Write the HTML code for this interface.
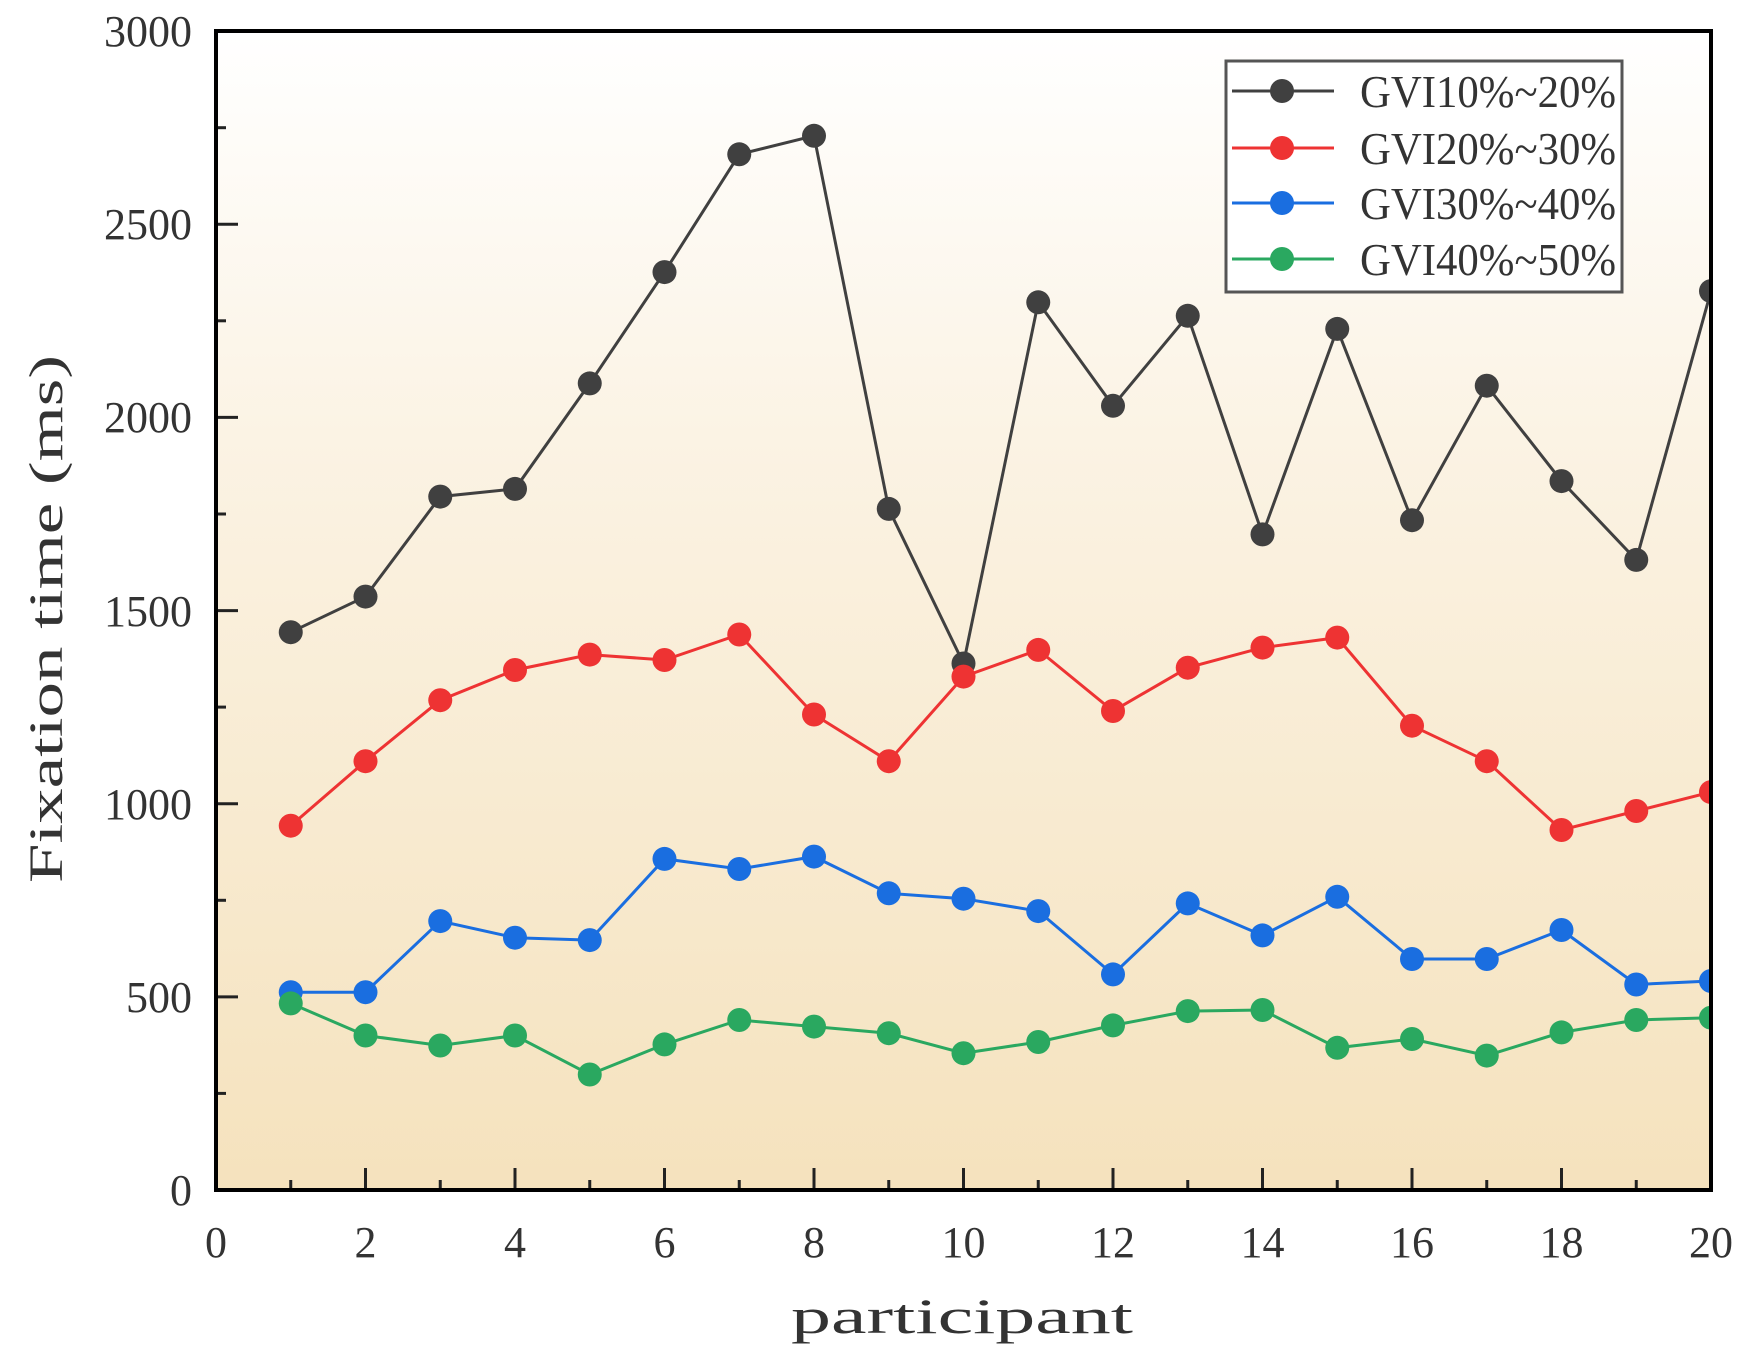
<!DOCTYPE html>
<html><head><meta charset="utf-8"><style>body{margin:0;background:#fff}svg{display:block}</style></head><body>
<svg width="1742" height="1360" xmlns="http://www.w3.org/2000/svg">
<defs>
<linearGradient id="bg" x1="0" y1="0" x2="0" y2="1"><stop offset="0" stop-color="#ffffff"/><stop offset="0.35" stop-color="#fbf3e4"/><stop offset="1" stop-color="#f5e2bd"/></linearGradient>
<clipPath id="cp"><rect x="216" y="31" width="1495" height="1159"/></clipPath>
</defs>
<rect x="216" y="31" width="1495" height="1159" fill="url(#bg)"/>
<g stroke="#222" stroke-width="3">
<line x1="290.75" y1="1190" x2="290.75" y2="1180"/><line x1="365.5" y1="1190" x2="365.5" y2="1168"/>
<line x1="440.25" y1="1190" x2="440.25" y2="1180"/><line x1="515" y1="1190" x2="515" y2="1168"/>
<line x1="589.75" y1="1190" x2="589.75" y2="1180"/><line x1="664.5" y1="1190" x2="664.5" y2="1168"/>
<line x1="739.25" y1="1190" x2="739.25" y2="1180"/><line x1="814" y1="1190" x2="814" y2="1168"/>
<line x1="888.75" y1="1190" x2="888.75" y2="1180"/><line x1="963.5" y1="1190" x2="963.5" y2="1168"/>
<line x1="1038.25" y1="1190" x2="1038.25" y2="1180"/><line x1="1113" y1="1190" x2="1113" y2="1168"/>
<line x1="1187.75" y1="1190" x2="1187.75" y2="1180"/><line x1="1262.5" y1="1190" x2="1262.5" y2="1168"/>
<line x1="1337.25" y1="1190" x2="1337.25" y2="1180"/><line x1="1412" y1="1190" x2="1412" y2="1168"/>
<line x1="1486.75" y1="1190" x2="1486.75" y2="1180"/><line x1="1561.5" y1="1190" x2="1561.5" y2="1168"/>
<line x1="1636.25" y1="1190" x2="1636.25" y2="1180"/>
<line x1="216" y1="1093.4" x2="226" y2="1093.4"/><line x1="216" y1="996.9" x2="238" y2="996.9"/>
<line x1="216" y1="900.3" x2="226" y2="900.3"/><line x1="216" y1="803.7" x2="238" y2="803.7"/>
<line x1="216" y1="707.1" x2="226" y2="707.1"/><line x1="216" y1="610.6" x2="238" y2="610.6"/>
<line x1="216" y1="514" x2="226" y2="514"/><line x1="216" y1="417.4" x2="238" y2="417.4"/>
<line x1="216" y1="320.8" x2="226" y2="320.8"/><line x1="216" y1="224.3" x2="238" y2="224.3"/>
<line x1="216" y1="127.7" x2="226" y2="127.7"/>
</g>
<g clip-path="url(#cp)">
<g stroke="#404040" stroke-width="3" fill="#404040">
<polyline fill="none" points="290.75,632.2 365.5,596.6 440.25,496.6 515,488.9 589.75,383.4 664.5,272.1 739.25,154.3 814,135.8 888.75,508.9 963.5,663.5 1038.25,302.3 1113,405.8 1187.75,315.8 1262.5,534.4 1337.25,328.9 1412,520.2 1486.75,385.7 1561.5,481.1 1636.25,559.9 1711,291.1"/>
<g stroke="none">
<circle cx="290.75" cy="632.2" r="12"/><circle cx="365.5" cy="596.6" r="12"/><circle cx="440.25" cy="496.6" r="12"/><circle cx="515" cy="488.9" r="12"/><circle cx="589.75" cy="383.4" r="12"/><circle cx="664.5" cy="272.1" r="12"/><circle cx="739.25" cy="154.3" r="12"/><circle cx="814" cy="135.8" r="12"/><circle cx="888.75" cy="508.9" r="12"/><circle cx="963.5" cy="663.5" r="12"/><circle cx="1038.25" cy="302.3" r="12"/><circle cx="1113" cy="405.8" r="12"/><circle cx="1187.75" cy="315.8" r="12"/><circle cx="1262.5" cy="534.4" r="12"/><circle cx="1337.25" cy="328.9" r="12"/><circle cx="1412" cy="520.2" r="12"/><circle cx="1486.75" cy="385.7" r="12"/><circle cx="1561.5" cy="481.1" r="12"/><circle cx="1636.25" cy="559.9" r="12"/><circle cx="1711" cy="291.1" r="12"/>
</g></g>
<g stroke="#ee3333" stroke-width="3" fill="#ee3333">
<polyline fill="none" points="290.75,825.7 365.5,761.2 440.25,700.2 515,670 589.75,654.6 664.5,660 739.25,634.5 814,714.5 888.75,761.2 963.5,676.6 1038.25,649.9 1113,711 1187.75,667.7 1262.5,647.6 1337.25,637.6 1412,725.7 1486.75,761.2 1561.5,830 1636.25,811 1711,792.1"/>
<g stroke="none">
<circle cx="290.75" cy="825.7" r="12"/><circle cx="365.5" cy="761.2" r="12"/><circle cx="440.25" cy="700.2" r="12"/><circle cx="515" cy="670" r="12"/><circle cx="589.75" cy="654.6" r="12"/><circle cx="664.5" cy="660" r="12"/><circle cx="739.25" cy="634.5" r="12"/><circle cx="814" cy="714.5" r="12"/><circle cx="888.75" cy="761.2" r="12"/><circle cx="963.5" cy="676.6" r="12"/><circle cx="1038.25" cy="649.9" r="12"/><circle cx="1113" cy="711" r="12"/><circle cx="1187.75" cy="667.7" r="12"/><circle cx="1262.5" cy="647.6" r="12"/><circle cx="1337.25" cy="637.6" r="12"/><circle cx="1412" cy="725.7" r="12"/><circle cx="1486.75" cy="761.2" r="12"/><circle cx="1561.5" cy="830" r="12"/><circle cx="1636.25" cy="811" r="12"/><circle cx="1711" cy="792.1" r="12"/>
</g></g>
<g stroke="#1a6ee0" stroke-width="3" fill="#1a6ee0">
<polyline fill="none" points="290.75,992.2 365.5,992.2 440.25,921.1 515,937.7 589.75,940.1 664.5,858.9 739.25,869 814,856.6 888.75,893.3 963.5,898.7 1038.25,911.1 1113,974.4 1187.75,903.4 1262.5,935.4 1337.25,896.8 1412,959 1486.75,959 1561.5,930 1636.25,984.5 1711,981"/>
<g stroke="none">
<circle cx="290.75" cy="992.2" r="12"/><circle cx="365.5" cy="992.2" r="12"/><circle cx="440.25" cy="921.1" r="12"/><circle cx="515" cy="937.7" r="12"/><circle cx="589.75" cy="940.1" r="12"/><circle cx="664.5" cy="858.9" r="12"/><circle cx="739.25" cy="869" r="12"/><circle cx="814" cy="856.6" r="12"/><circle cx="888.75" cy="893.3" r="12"/><circle cx="963.5" cy="898.7" r="12"/><circle cx="1038.25" cy="911.1" r="12"/><circle cx="1113" cy="974.4" r="12"/><circle cx="1187.75" cy="903.4" r="12"/><circle cx="1262.5" cy="935.4" r="12"/><circle cx="1337.25" cy="896.8" r="12"/><circle cx="1412" cy="959" r="12"/><circle cx="1486.75" cy="959" r="12"/><circle cx="1561.5" cy="930" r="12"/><circle cx="1636.25" cy="984.5" r="12"/><circle cx="1711" cy="981" r="12"/>
</g></g>
<g stroke="#2aa860" stroke-width="3" fill="#2aa860">
<polyline fill="none" points="290.75,1003.4 365.5,1035.5 440.25,1045.5 515,1035.5 589.75,1074.5 664.5,1044.4 739.25,1020 814,1026.6 888.75,1033.2 963.5,1053.2 1038.25,1042 1113,1025.4 1187.75,1011.1 1262.5,1010 1337.25,1047.8 1412,1039 1486.75,1055.6 1561.5,1032.4 1636.25,1020 1711,1017.7"/>
<g stroke="none">
<circle cx="290.75" cy="1003.4" r="12"/><circle cx="365.5" cy="1035.5" r="12"/><circle cx="440.25" cy="1045.5" r="12"/><circle cx="515" cy="1035.5" r="12"/><circle cx="589.75" cy="1074.5" r="12"/><circle cx="664.5" cy="1044.4" r="12"/><circle cx="739.25" cy="1020" r="12"/><circle cx="814" cy="1026.6" r="12"/><circle cx="888.75" cy="1033.2" r="12"/><circle cx="963.5" cy="1053.2" r="12"/><circle cx="1038.25" cy="1042" r="12"/><circle cx="1113" cy="1025.4" r="12"/><circle cx="1187.75" cy="1011.1" r="12"/><circle cx="1262.5" cy="1010" r="12"/><circle cx="1337.25" cy="1047.8" r="12"/><circle cx="1412" cy="1039" r="12"/><circle cx="1486.75" cy="1055.6" r="12"/><circle cx="1561.5" cy="1032.4" r="12"/><circle cx="1636.25" cy="1020" r="12"/><circle cx="1711" cy="1017.7" r="12"/>
</g></g>
</g>
<rect x="216" y="31" width="1495" height="1159" fill="none" stroke="#000" stroke-width="4"/>
<g font-family="Liberation Serif, serif" font-size="44" fill="#333">
<text x="192" y="1205" text-anchor="end">0</text>
<text x="192" y="1012" text-anchor="end">500</text>
<text x="192" y="819" text-anchor="end">1000</text>
<text x="192" y="626" text-anchor="end">1500</text>
<text x="192" y="432" text-anchor="end">2000</text>
<text x="192" y="239" text-anchor="end">2500</text>
<text x="192" y="46" text-anchor="end">3000</text>
<text x="216" y="1257" text-anchor="middle">0</text>
<text x="365.5" y="1257" text-anchor="middle">2</text>
<text x="515" y="1257" text-anchor="middle">4</text>
<text x="664.5" y="1257" text-anchor="middle">6</text>
<text x="814" y="1257" text-anchor="middle">8</text>
<text x="963.5" y="1257" text-anchor="middle">10</text>
<text x="1113" y="1257" text-anchor="middle">12</text>
<text x="1262.5" y="1257" text-anchor="middle">14</text>
<text x="1412" y="1257" text-anchor="middle">16</text>
<text x="1561.5" y="1257" text-anchor="middle">18</text>
<text x="1711" y="1257" text-anchor="middle">20</text>
</g>
<text transform="translate(62,619) rotate(-90)" text-anchor="middle" font-family="Liberation Serif, serif" font-size="48" fill="#333" textLength="528" lengthAdjust="spacingAndGlyphs">Fixation time (ms)</text>
<text x="962" y="1333" text-anchor="middle" font-family="Liberation Serif, serif" font-size="50" fill="#333" textLength="342" lengthAdjust="spacingAndGlyphs">participant</text>
<rect x="1226" y="61" width="396" height="231" fill="#fff" stroke="#555" stroke-width="3"/>
<g font-family="Liberation Serif, serif" font-size="46" fill="#333">
<line x1="1232" y1="91" x2="1334" y2="91" stroke="#404040" stroke-width="3"/><circle cx="1282" cy="91" r="12" fill="#404040"/>
<text x="1360" y="107" textLength="256" lengthAdjust="spacingAndGlyphs">GVI10%~20%</text>
<line x1="1232" y1="148" x2="1334" y2="148" stroke="#ee3333" stroke-width="3"/><circle cx="1282" cy="148" r="12" fill="#ee3333"/>
<text x="1360" y="164" textLength="256" lengthAdjust="spacingAndGlyphs">GVI20%~30%</text>
<line x1="1232" y1="203" x2="1334" y2="203" stroke="#1a6ee0" stroke-width="3"/><circle cx="1282" cy="203" r="12" fill="#1a6ee0"/>
<text x="1360" y="219" textLength="256" lengthAdjust="spacingAndGlyphs">GVI30%~40%</text>
<line x1="1232" y1="259" x2="1334" y2="259" stroke="#2aa860" stroke-width="3"/><circle cx="1282" cy="259" r="12" fill="#2aa860"/>
<text x="1360" y="275" textLength="256" lengthAdjust="spacingAndGlyphs">GVI40%~50%</text>
</g>
</svg>
</body></html>
